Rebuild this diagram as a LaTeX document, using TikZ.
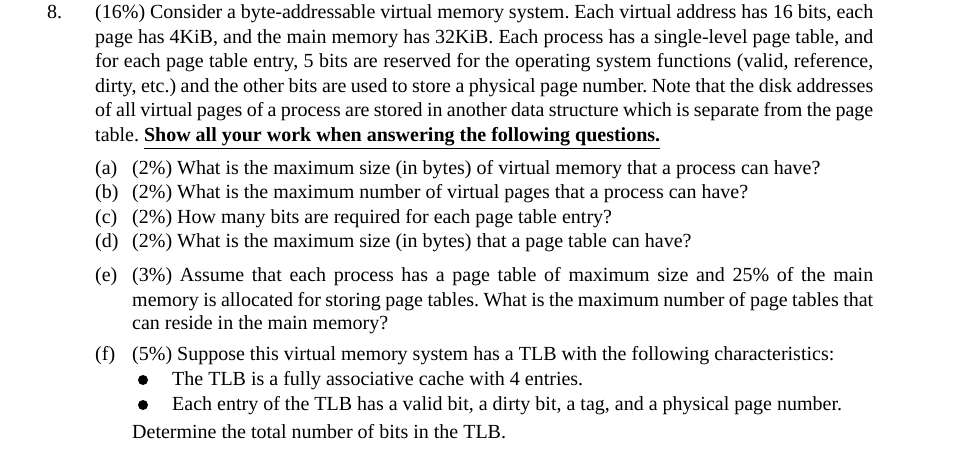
\documentclass[tikz,border=0pt]{standalone}
\usepackage{fontspec}
\setmainfont{Liberation Serif}
\frenchspacing
\begin{document}
\begin{tikzpicture}[x=1pt,y=-1pt,
  ln/.style={anchor=base west,inner sep=0pt,font=\fontsize{20}{22}\selectfont},
  bul/.style={circle,fill=black,inner sep=0pt,minimum size=10pt}]
\useasboundingbox (0,0) rectangle (953,454);
\node[ln] (n8) at (47,19) {8.};
\node[ln] (l1) at (95,19) {\makebox[778pt][s]{(16\%) Consider a byte-addressable virtual memory system. Each virtual address has 16 bits, each}};
\node[ln] (l2) at (95,44) {\makebox[778pt][s]{page has 4KiB, and the main memory has 32KiB. Each process has a single-level page table, and}};
\node[ln] (l3) at (95,68) {\makebox[778pt][s]{for each page table entry, 5 bits are reserved for the operating system functions (valid, reference,}};
\node[ln] (l4) at (95,93) {\makebox[778pt][s]{dirty, etc.) and the other bits are used to store a physical page number. Note that the disk addresses}};
\node[ln] (l5) at (95,117) {\makebox[778pt][s]{of all virtual pages of a process are stored in another data structure which is separate from the page}};
\node[ln] (l6) at (95,142) {table. \underline{\textbf{Show all your work when answering the following questions.}}};
\node[ln] (a) at (95,175) {(a)};
\node[ln] (at) at (132,175) {(2\%) What is the maximum size (in bytes) of virtual memory that a process can have?};
\node[ln] (b) at (95,199) {(b)};
\node[ln] (bt) at (132,199) {(2\%) What is the maximum number of virtual pages that a process can have?};
\node[ln] (c) at (95,224) {(c)};
\node[ln] (ct) at (132,224) {(2\%) How many bits are required for each page table entry?};
\node[ln] (d) at (95,248) {(d)};
\node[ln] (dt) at (132,248) {(2\%) What is the maximum size (in bytes) that a page table can have?};
\node[ln] (e) at (95,282) {(e)};
\node[ln] (et1) at (132,282) {\makebox[741pt][s]{(3\%) Assume that each process has a page table of maximum size and 25\% of the main}};
\node[ln] (et2) at (132,306) {\makebox[741pt][s]{memory is allocated for storing page tables. What is the maximum number of page tables that}};
\node[ln] (et3) at (132,330) {can reside in the main memory?};
\node[ln] (f) at (95,360) {(f)};
\node[ln] (ft) at (132,360) {(5\%) Suppose this virtual memory system has a TLB with the following characteristics:};
\node[bul] (b1) at (143,380) {};
\node[ln] (f1) at (172,385) {The TLB is a fully associative cache with 4 entries.};
\node[bul] (b2) at (143,405) {};
\node[ln] (f2) at (172,410) {Each entry of the TLB has a valid bit, a dirty bit, a tag, and a physical page number.};
\node[ln] (f3) at (132,438) {Determine the total number of bits in the TLB.};
\end{tikzpicture}
\end{document}
